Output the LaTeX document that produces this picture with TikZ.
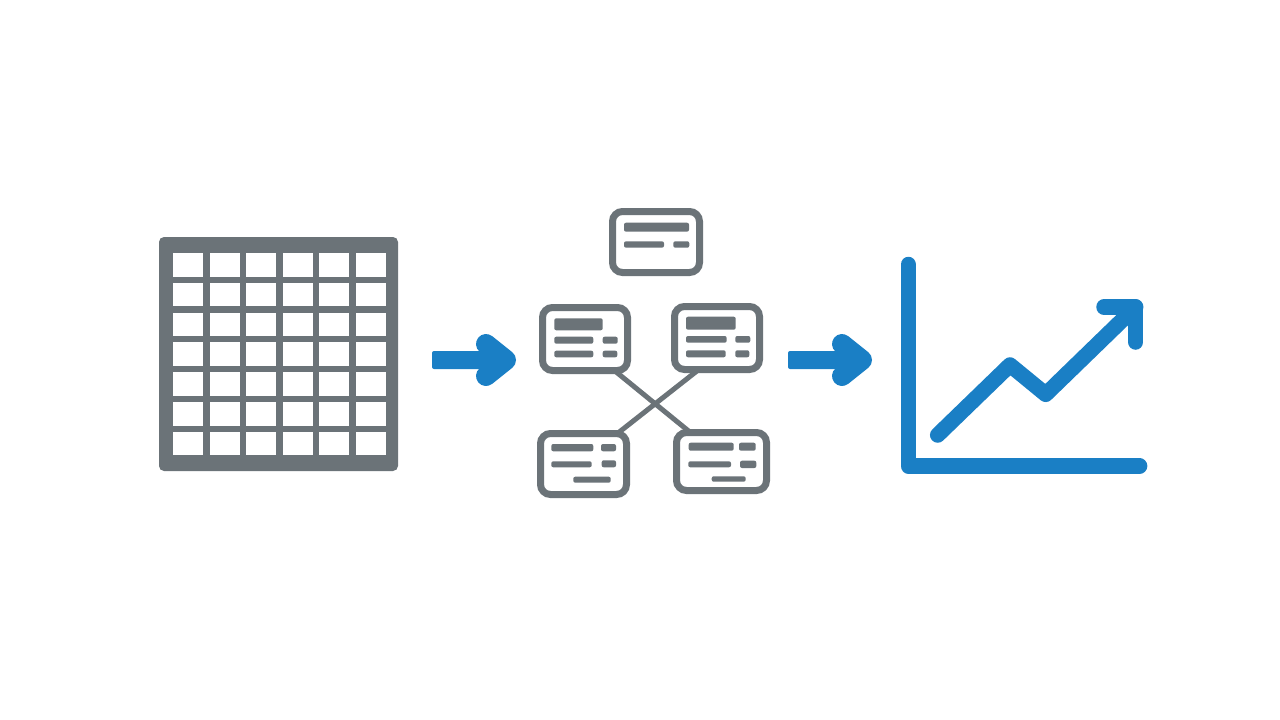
\documentclass[tikz,border=0pt]{standalone}
\definecolor{slategrey}{HTML}{6B7378}
\definecolor{flowblue}{HTML}{1A7FC5}
\tikzset{
  tablebox/.style={fill=slategrey, rounded corners=5, inner sep=0, outer sep=0, minimum width=239, minimum height=234},
  cardbox/.style={draw=slategrey, fill=white, line width=7, rounded corners=10, inner sep=0, outer sep=0},
  bar/.style={fill=slategrey, rounded corners=2},
  link/.style={draw=slategrey, line width=5},
  flowhead/.style={draw=flowblue, line width=20, line cap=round, line join=round},
  chartline/.style={draw=flowblue, line width=15.5, line cap=round, line join=round}
}
\begin{document}
\begin{tikzpicture}[x=1pt, y=-1pt]
    \useasboundingbox (0,0) rectangle (1280,720);

    \node[tablebox] (table) at (278.5,354) {};
    \foreach \c in {0,...,5}
        \foreach \r in {0,...,6}
            \fill[white] (173+36.6*\c,253+29.8*\r) rectangle ++(30,23.5);

    \node[cardbox, minimum width=87, minimum height=61] (cardtop) at (656,242) {};
    \node[cardbox, minimum width=85, minimum height=63] (cardleft) at (585,339) {};
    \node[cardbox, minimum width=85, minimum height=63] (cardright) at (717,338) {};
    \node[cardbox, minimum width=86, minimum height=61] (cardlowleft) at (583.5,464) {};
    \node[cardbox, minimum width=90, minimum height=58] (cardlowright) at (721.5,461.5) {};

    \draw[link] (cardleft.-47) -- (cardlowright.137);
    \draw[link] (cardright.-120) -- (cardlowleft.42);

    \foreach \xa/\ya/\xb/\yb in {
        624/222.7/689/231.7, 624/241.3/664/247.7, 673.3/241.3/689.3/247.7,
        554.3/318.3/602.7/330.3, 554.3/336.7/593.3/343.7, 602.7/336.7/617.7/343.7,
        554.3/350.7/593.3/357.3, 602.7/350.7/617.3/357.3,
        686/316.7/735.7/329.7, 686/336/726.7/342.7, 735.3/336/750.3/342.7,
        686/350.3/725.7/357.3, 735.3/350.3/749.3/357.3,
        551.3/444/593.3/451.3, 601/444/616/451.3, 551.3/461.3/591.7/467.3,
        601.7/460.3/616/467.3, 573.3/476.7/610.7/482.7,
        688.7/442.7/733.7/450.7, 739/442.7/755.7/450.7, 688.3/461.3/731/467.3,
        740/460.7/756.3/468, 711.7/476.3/745.7/481.7}
        \fill[bar] (\xa,\ya) rectangle (\xb,\yb);

    \coordinate (flowa) at (432,360);
    \coordinate (flowb) at (788,360);
    \foreach \s in {flowa,flowb} {
        \fill[flowblue, rounded corners=2] ([shift={(0,-9)}]\s) rectangle ++(62,18);
        \draw[flowhead] ([shift={(54,-16)}]\s) -- ++(20,16) -- ++(-20,16);
    }

    \draw[chartline] (908.3,264.5) -- (908.3,466) -- (1139.6,466);
    \draw[chartline] (937.7,435) -- (1010,365) -- (1045.7,394.3) -- (1135.7,307);
    \draw[chartline] (1104,307) -- (1135.7,307) -- (1135.7,342);
\end{tikzpicture}
\end{document}
